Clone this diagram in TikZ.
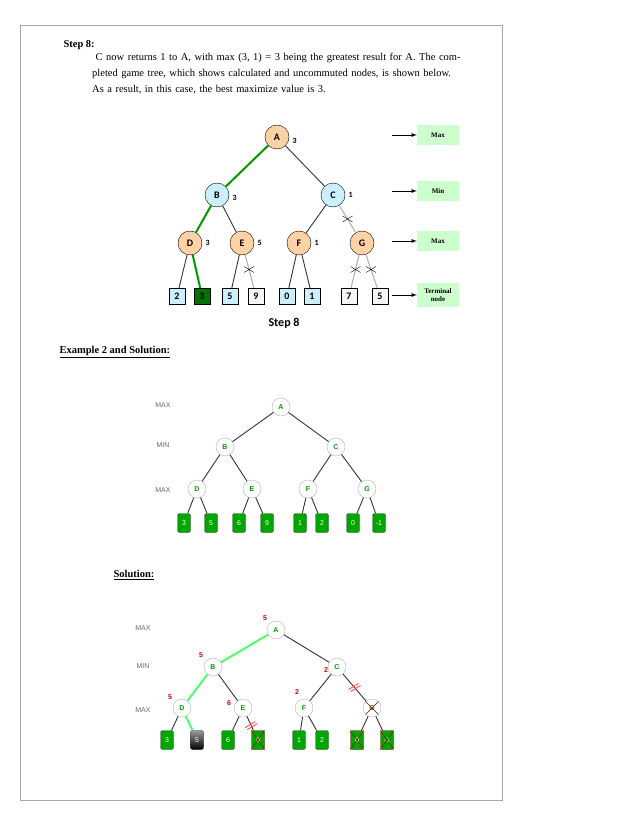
\documentclass[tikz,border=0pt]{standalone}
\usepackage{fontspec}
\usetikzlibrary{calc}
\setmainfont{Liberation Serif}
\newfontfamily\carl{Carlito}
\newfontfamily\lsans{Liberation Sans}
\begin{document}
\begin{tikzpicture}[x=1pt,y=-1pt,
 orn/.style={circle,draw,fill=orange!35!white,minimum size=24,inner sep=0,font=\carl\bfseries\normalsize},
 blu/.style={circle,draw,fill=cyan!20!white,minimum size=24,inner sep=0,font=\carl\bfseries\normalsize},
 leaf/.style={draw,minimum size=16,inner sep=0,font=\carl\bfseries\normalsize},
 lab/.style={fill=green!20!white,minimum width=42,minimum height=20,inner sep=1,font=\bfseries\scriptsize,align=center},
 val/.style={font=\carl\bfseries\footnotesize},
 gc/.style={circle,draw=gray!60,fill=white,minimum size=18,inner sep=0,font=\lsans\bfseries\scriptsize,text=green!60!black},
 gl/.style={draw=black!70,rounded corners=2,fill=green!65!black,minimum width=13,minimum height=19,inner sep=0,font=\lsans\scriptsize,text=white},
 lvl/.style={font=\lsans\scriptsize,text=gray!80!black},
 rv/.style={font=\lsans\bfseries\scriptsize,text=red!80!black},
 gp/.style={green!60!black,line width=2},
 lp/.style={green!80!cyan!70,line width=2},
 ed/.style={black!80,line width=0.9},
 ge/.style={gray!60,line width=1.1}]
\useasboundingbox (0,0) rectangle (638,826);
\draw[gray!70] (20,25) rectangle (502,800);
\node[anchor=west,font=\bfseries\fontsize{10.5}{13}\selectfont] (st) at (60,45) {Step 8:};
\node[anchor=north west,align=left,font=\fontsize{10.5}{16}\selectfont,inner sep=0,text width=376pt] (par) at (92,53) {\ C now returns 1 to A, with max (3, 1) = 3 being the greatest result for A. The completed game tree, which shows calculated and uncommuted nodes, is shown below. As a result, in this case, the best maximize value is 3.};
% tree 1
\node[orn] (A) at (277,137) {A}; \node[val,anchor=west] at (289,141) {3};
\node[blu] (B) at (217,195) {B}; \node[val,anchor=west] at (229,198) {3};
\node[blu] (C) at (333,195) {C}; \node[val,anchor=west] at (345,195) {1};
\node[orn] (D) at (190,243) {D}; \node[val,anchor=west] at (202,243) {3};
\node[orn] (E) at (242,243) {E}; \node[val,anchor=west] at (254,243) {5};
\node[orn] (F) at (299,243) {F}; \node[val,anchor=west] at (311,243) {1};
\node[orn] (G) at (362,243) {G};
\node[leaf,fill=cyan!20!white] (l1) at (177,296) {2};
\node[leaf,fill=green!45!black] (l2) at (202,296) {3};
\node[leaf,fill=cyan!20!white] (l3) at (230,296) {5};
\node[leaf,fill=gray!8] (l4) at (256,296) {9};
\node[leaf,fill=cyan!20!white] (l5) at (287,296) {0};
\node[leaf,fill=cyan!20!white] (l6) at (312,296) {1};
\node[leaf,fill=gray!8] (l7) at (349,296) {7};
\node[leaf,fill=gray!8] (l8) at (380,296) {5};
\draw[gp] (A)--(B); \draw[gp] (B)--(D); \draw[gp] (D)--(l2);
\draw[ed] (A)--(C) (B)--(E) (C)--(F) (D)--(l1) (E)--(l3) (F)--(l5) (F)--(l6);
\draw[ge] (C)--(G) (E)--(l4) (G)--(l7) (G)--(l8);
\foreach \a/\b in {C/G,E/l4,G/l7,G/l8}{
 \coordinate (mm) at ($(\a)!0.5!(\b)$);
 \draw[black] ([shift={(-5,-3)}]mm)--([shift={(5,3)}]mm) ([shift={(-5,3)}]mm)--([shift={(5,-3)}]mm);}
\node[lab] (m1) at (438,135) {Max};
\node[lab] (m2) at (438,191) {Min};
\node[lab] (m3) at (438,241) {Max};
\node[lab,minimum height=24] (m4) at (438,295) {Terminal\\node};
\foreach \m/\y in {m1/135,m2/191,m3/241,m4/295}{\coordinate (s\m) at (392,\y); \draw[-latex,thick] (s\m)--(\m.west);}
\node[font=\carl\bfseries\large] (cap) at (284,323) {Step 8};
\node[anchor=west,font=\bfseries\fontsize{10.5}{13}\selectfont] (ex) at (56,352) {\underline{Example 2 and Solution:}};
% tree 2
\node[lvl] at (163,405) {MAX}; \node[lvl] at (163,445) {MIN}; \node[lvl] at (163,490) {MAX};
\node[gc] (A2) at (281,407) {A};
\node[gc] (B2) at (225,447) {B}; \node[gc] (C2) at (336,447) {C};
\node[gc] (D2) at (197,489) {D}; \node[gc] (E2) at (252,489) {E};
\node[gc] (F2) at (308,489) {F}; \node[gc] (G2) at (367,489) {G};
\foreach \n/\x/\t in {a/184/3,b/211/5,c/239/6,d/267/9,e/300/1,f/322/2,g/353/0,h/379/-1}
 \node[gl] (q\n) at (\x,523) {\t};
\draw[ed] (A2)--(B2) (A2)--(C2) (B2)--(D2) (B2)--(E2) (C2)--(F2) (C2)--(G2)
 (D2)--(qa) (D2)--(qb) (E2)--(qc) (E2)--(qd) (F2)--(qe) (F2)--(qf) (G2)--(qg) (G2)--(qh);
\node[anchor=west,font=\bfseries\fontsize{10.5}{13}\selectfont] (so) at (110,575) {\underline{Solution:}};
% tree 3
\node[lvl] at (143,628) {MAX}; \node[lvl] at (143,666) {MIN}; \node[lvl] at (143,710) {MAX};
\node[gc] (A3) at (276,630) {A};
\node[gc] (B3) at (213,667) {B}; \node[gc] (C3) at (337,667) {C};
\node[gc] (D3) at (182,708) {D}; \node[gc] (E3) at (243,708) {E};
\node[gc] (F3) at (304,708) {F}; \node[gc] (G3) at (372,708) {G};
\node[gl] (ra) at (167,740) {3};
\node[gl,top color=black!40,bottom color=black] (rb) at (197,740) {5};
\node[gl] (rc) at (228,740) {6};
\node[gl,draw=red!50!black] (rd) at (258,740) {9};
\node[gl] (re) at (299,740) {1};
\node[gl] (rf) at (322,740) {2};
\node[gl,draw=red!50!black] (rg) at (357,740) {0};
\node[gl,draw=red!50!black] (rh) at (387,740) {-1};
\foreach \n in {rd,rg,rh} \draw[red!60!black] (\n.north west)--(\n.south east) (\n.north east)--(\n.south west);
\draw[red!60!black] (G3.north west)--(G3.south east) (G3.north east)--(G3.south west);
\draw[lp] (A3)--(B3); \draw[lp] (B3)--(D3); \draw[lp] (D3)--(rb);
\draw[ed] (A3)--(C3) (B3)--(E3) (C3)--(F3) (C3)--(G3) (D3)--(ra) (E3)--(rc) (E3)--(rd)
 (F3)--(re) (F3)--(rf) (G3)--(rg) (G3)--(rh);
\foreach \a/\b/\f in {C3/G3/0.5,E3/rd/0.55}{
 \coordinate (mm) at ($(\a)!\f!(\b)$);
 \draw[red!70,line width=0.9] ([shift={(-6,2)}]mm)--([shift={(4,-4)}]mm) ([shift={(-4,4)}]mm)--([shift={(6,-2)}]mm);}
\node[rv] at (265,618) {5}; \node[rv] at (201,655) {5}; \node[rv] at (326,670) {2};
\node[rv] at (297,692) {2}; \node[rv] at (229,703) {6}; \node[rv] at (170,697) {5};
\end{tikzpicture}
\end{document}
